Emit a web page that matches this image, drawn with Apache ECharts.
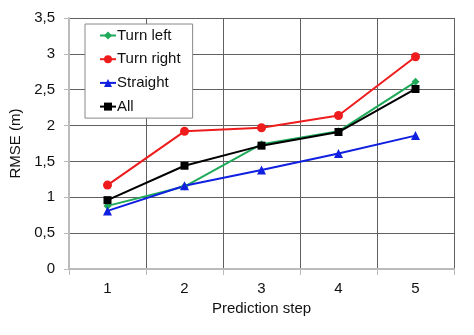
<!DOCTYPE html>
<html><head><meta charset="utf-8">
<script src="https://cdn.jsdelivr.net/npm/echarts@6/dist/echarts.min.js"></script>
<style>html,body{margin:0;padding:0;background:#fff}#c{width:474px;height:335px}</style>
</head><body><div id="c"></div>
<script>
const categories = ['1','2','3','4','5'];
const turnLeft  = [0.88, 1.15, 1.74, 1.92, 2.61];
const turnRight = [1.17, 1.92, 1.97, 2.14, 2.96];
const straight  = [0.81, 1.16, 1.38, 1.61, 1.86];
const all       = [0.96, 1.44, 1.72, 1.91, 2.51];
const yMin = 0, yMax = 3.5, yStep = 0.5;

const font = 'Liberation Sans, Arial, sans-serif';
function mk(name, data, color, symbol, size){
  return {name, type:'line', data, symbol, symbolSize:size,
    lineStyle:{color, width:2}, itemStyle:{color}, color};
}
const chart = echarts.init(document.getElementById('c'));
chart.setOption({
  animation:false,
  textStyle:{fontFamily:font},
  grid:{left:69, right:20, top:18, bottom:66},
  legend:{
    orient:'vertical', left:85, top:24, width:108,
    backgroundColor:'#fff', borderColor:'#888', borderWidth:1,
    padding:[4,12,4,14], itemGap:8.7, itemWidth:16, itemHeight:10,
    textStyle:{fontSize:15, color:'#111', fontFamily:font, padding:[0,0,0,-4]},
    data:['Turn left','Turn right','Straight','All']
  },
  xAxis:{
    type:'category', data:categories, boundaryGap:true,
    name:'Prediction step', nameLocation:'middle', nameGap:27,
    nameTextStyle:{fontSize:15, color:'#111'},
    axisLine:{lineStyle:{color:'#bbb', width:2}},
    axisTick:{show:true, length:6, lineStyle:{color:'#bbb'}},
    axisLabel:{fontSize:15, color:'#111', margin:12},
    splitLine:{show:true, lineStyle:{color:'#606060', width:1}}
  },
  yAxis:{
    type:'value', min:yMin, max:yMax, interval:yStep,
    name:'RMSE (m)', nameLocation:'middle', nameGap:44,
    nameTextStyle:{fontSize:15, color:'#111'},
    axisLine:{show:true, lineStyle:{color:'#bbb', width:2}},
    axisTick:{show:true, length:5, lineStyle:{color:'#bbb'}},
    axisLabel:{fontSize:15, color:'#111', margin:14,
      formatter:v=>String(v).replace('.',',')},
    splitLine:{show:true, lineStyle:{color:'#606060', width:1}}
  },
  series:[
    mk('Turn left', turnLeft, '#1faa5a', 'diamond', 8),
    mk('Turn right', turnRight, '#ee1c1c', 'circle', 9),
    mk('Straight', straight, '#1020e0', 'triangle', 9),
    mk('All', all, '#000', 'rect', 8)
  ]
});
</script></body></html>
